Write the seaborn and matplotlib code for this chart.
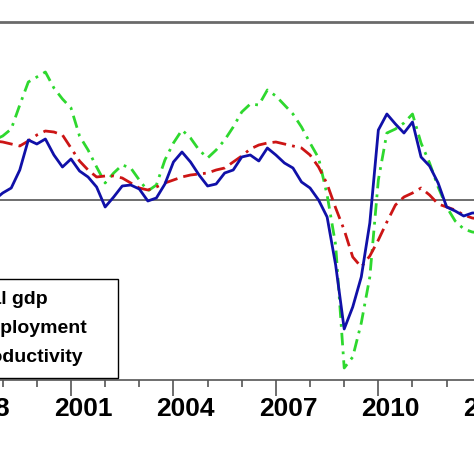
import numpy as np
import pandas as pd
import matplotlib
matplotlib.use("Agg")
import matplotlib.pyplot as plt
import matplotlib.transforms as mtransforms
import seaborn as sns

# quarterly observations, 1998Q4 .. 2013Q1
start_year = 1998.75
n_quarters = 58

real_gdp = [0.00, 0.28, 0.48, 1.20, 2.40, 2.24, 2.44, 1.80, 1.32, 1.64,
            1.16, 0.92, 0.52, -0.28, 0.12, 0.56, 0.60, 0.44, -0.04, 0.08,
            0.64, 1.52, 1.92, 1.52, 1.00, 0.56, 0.64, 1.08, 1.20, 1.72,
            1.80, 1.56, 2.08, 1.80, 1.48, 1.28, 0.72, 0.48, 0.00, -0.68,
            -2.60, -5.16, -4.28, -3.08, -0.92, 2.80, 3.44, 3.04, 2.68, 3.12,
            1.72, 1.36, 0.68, -0.28, -0.44, -0.64, -0.52, -0.52]

employment = [2.36, 2.32, 2.24, 2.16, 2.36, 2.60, 2.76, 2.72, 2.60, 2.08,
              1.56, 1.20, 0.92, 0.96, 0.96, 0.88, 0.68, 0.48, 0.40, 0.52,
              0.68, 0.80, 0.92, 1.00, 1.04, 1.08, 1.20, 1.28, 1.52, 1.76,
              2.04, 2.20, 2.28, 2.32, 2.24, 2.16, 2.08, 1.80, 1.32, 0.64,
              -0.32, -1.20, -2.28, -2.68, -2.24, -1.60, -0.88, -0.20, 0.12, 0.28,
              0.48, 0.20, -0.16, -0.28, -0.40, -0.60, -0.72, -0.76]

productivity = [2.40, 2.56, 2.84, 3.80, 4.72, 4.92, 5.12, 4.48, 4.04, 3.68,
                2.56, 2.00, 1.32, 0.68, 1.08, 1.40, 1.28, 0.80, 0.36, 0.60,
                1.60, 2.28, 2.80, 2.48, 2.00, 1.68, 2.00, 2.40, 2.92, 3.52,
                3.84, 3.80, 4.40, 4.16, 3.80, 3.44, 2.92, 2.28, 1.68, 0.20,
                -1.80, -6.72, -6.28, -4.92, -3.08, 0.80, 2.68, 2.84, 3.08, 3.44,
                2.28, 1.48, 0.52, -0.28, -0.84, -1.16, -1.28, -1.32]

label_years = [1998, 2001, 2004, 2007, 2010, 2013]

dates = start_year + 0.25 * np.arange(n_quarters)
df = pd.DataFrame({"date": dates, "real gdp": real_gdp,
                   "employment": employment, "productivity": productivity})

sns.set_style("white")
plt.rcParams["font.family"] = ["Liberation Sans", "DejaVu Sans"]
plt.rcParams["font.weight"] = "bold"
plt.rcParams["text.color"] = "black"
plt.rcParams["xtick.labelcolor"] = "black"

fig = plt.figure(figsize=(4.74, 4.74), dpi=100)
# the original chart is cropped: the axes run past both picture edges
ax = fig.add_axes([-60 / 474, 94 / 474, 594 / 474, 358 / 474])

ax.axhline(0, color="#555555", lw=1.2, zorder=1)

sns.lineplot(data=df, x="date", y="real gdp", ax=ax, color="#1010a8",
             lw=2.0, label="real gdp", zorder=4)
sns.lineplot(data=df, x="date", y="employment", ax=ax, color="#cc1515",
             lw=2.0, label="employment", zorder=3)
sns.lineplot(data=df, x="date", y="productivity", ax=ax, color="#2ed82e",
             lw=2.0, label="productivity", zorder=2)
ax.lines[2].set_linestyle((0, (5, 2.2, 5, 2.2, 1, 2.2)))
ax.lines[3].set_linestyle((0, (4.5, 2.2, 1, 2.2)))

for side in ["left", "right"]:
    ax.spines[side].set_visible(False)
ax.spines["top"].set_color("#6a6a6a")
ax.spines["top"].set_linewidth(2.0)
ax.spines["bottom"].set_color("#555555")
ax.spines["bottom"].set_linewidth(1.2)

ax.set_yticks([])
ax.set_xticks(label_years)
ax.set_xticklabels([str(y) for y in label_years], fontsize=19, fontweight="bold")
ax.set_xticks(np.arange(1997, 2015), minor=True)
ax.tick_params(axis="x", which="major", direction="out", length=11.5, width=1.2,
               color="#555555", pad=1, bottom=True)
ax.tick_params(axis="x", which="minor", direction="out", length=5, width=1.2,
               color="#555555", bottom=True)
shift = mtransforms.ScaledTranslation(12 / 100, 0, fig.dpi_scale_trans)
for lab in ax.get_xticklabels():
    lab.set_transform(lab.get_transform() + shift)
ax.set_xlabel("")
ax.set_ylabel("")

# limits last: set_xticks widens the view otherwise
ax.set_xlim(1997.164, 2014.558)
ax.set_ylim(-7.2, 7.12)

leg = ax.legend(loc="lower left", bbox_to_anchor=(-94 / 474, 96 / 474, 212 / 474, 0.2),
                bbox_transform=fig.transFigure, mode="expand", borderaxespad=0,
                borderpad=0.6, labelspacing=0.6, handlelength=2.0, handletextpad=0.8,
                fancybox=False, framealpha=1, edgecolor="black",
                prop={"size": 14, "weight": "bold"})
leg.get_frame().set_linewidth(1.0)

fig.savefig("out.png", dpi=100)
